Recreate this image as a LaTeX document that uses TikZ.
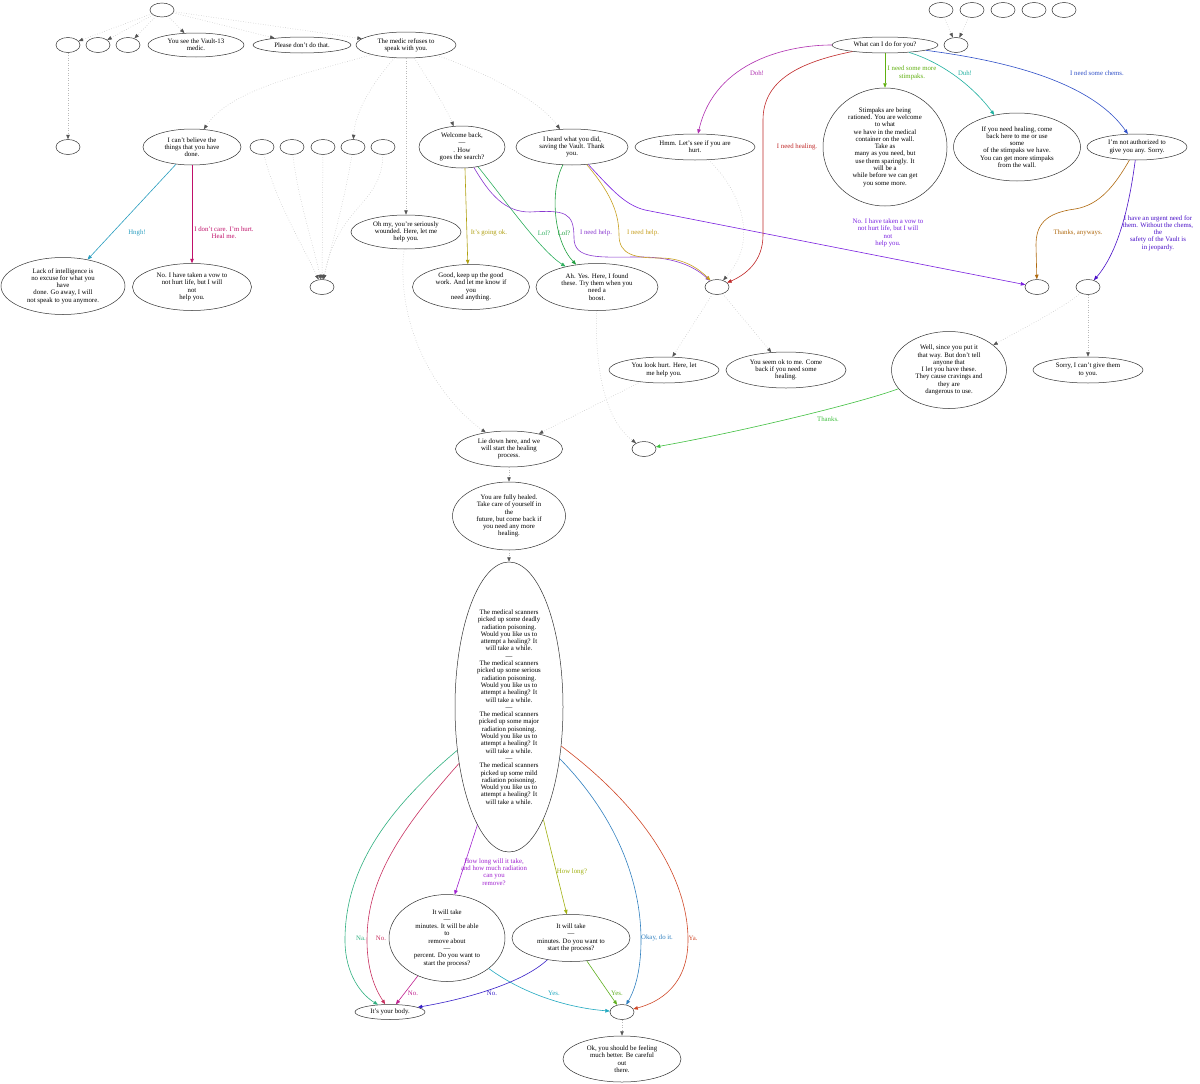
\documentclass[tikz,border=0pt]{standalone}
\usepackage{fontspec}
\setmainfont{Liberation Serif}
\usetikzlibrary{shapes.geometric,arrows.meta}
\definecolor{cHn}{HTML}{2A9EC0}
\definecolor{cDc}{HTML}{C0106A}
\definecolor{cGo}{HTML}{B0A010}
\definecolor{cLolA}{HTML}{30B060}
\definecolor{cLolB}{HTML}{20A040}
\definecolor{cNhA}{HTML}{8A3AD0}
\definecolor{cNhB}{HTML}{C8A020}
\definecolor{cVow}{HTML}{7A20E0}
\definecolor{cDoh}{HTML}{B030B0}
\definecolor{cHeal}{HTML}{C02828}
\definecolor{cStim}{HTML}{60B010}
\definecolor{cDuh}{HTML}{20B0A0}
\definecolor{cChem}{HTML}{3050C8}
\definecolor{cThx}{HTML}{B06A10}
\definecolor{cUrg}{HTML}{4A10C8}
\definecolor{cThanks}{HTML}{40C040}
\definecolor{cNa}{HTML}{30B080}
\definecolor{cNo}{HTML}{C83060}
\definecolor{cHow}{HTML}{A020D0}
\definecolor{cHowl}{HTML}{A0B010}
\definecolor{cOk}{HTML}{3080C0}
\definecolor{cYa}{HTML}{D04828}
\definecolor{cNoB}{HTML}{C02090}
\definecolor{cYesA}{HTML}{20A8C0}
\definecolor{cNoC}{HTML}{3820C8}
\definecolor{cYesB}{HTML}{60B020}
\definecolor{tipgray}{HTML}{555555}
\newcommand{\txtsize}{\fontsize{6.8}{7.3}\selectfont}
\tikzset{
  nd/.style={ellipse,draw=black!80,line width=0.5pt,inner sep=0pt,align=center,font=\txtsize},
  mw/.style={minimum width=#1},
  mh/.style={minimum height=#1},
  em/.style={nd,minimum width=24pt,minimum height=15pt},
  dotl/.style={draw=gray!55,dotted,line width=0.5pt,-{Triangle[length=4.5pt,width=3.5pt,color=tipgray]}},
  ce/.style={draw=#1,line width=0.6pt,-{Triangle[length=4.5pt,width=3.5pt]}},
  lb/.style={font=\txtsize,align=center,text=#1,inner sep=1pt}
}
\begin{document}
\begin{tikzpicture}[x=1pt,y=-1pt]
\useasboundingbox[fill=white] (0,0) rectangle (1200,1084);

% top row
\node[em,minimum height=14pt] (n0) at (162,10) {};
\node[em] (e1) at (68,45) {};
\node[em] (e2) at (98,45) {};
\node[em] (e3) at (128,45) {};
\node[nd,mw=96pt,mh=24pt] (see) at (196,45) {You see the Vault-13\\medic.};
\node[nd,mw=98pt,mh=16pt] (please) at (302,45) {Please don't do that.};
\node[nd,mw=100pt,mh=26pt] (refuses) at (406,45) {The medic refuses to\\speak with you.};
\node[em] (r1) at (941,10) {};
\node[em] (r2) at (972,10) {};
\node[em] (r3) at (1003,10) {};
\node[em] (r4) at (1034,10) {};
\node[em] (r5) at (1064,10) {};
\node[em] (r6) at (956,45) {};
\node[nd,mw=106pt,mh=16pt] (what) at (885,45) {What can I do for you?};

% second row
\node[em] (e4) at (68,147) {};
\node[nd,mw=98pt,mh=36pt] (cant) at (192,147) {I can't believe the\\things that you have\\done.};
\node[em] (m1) at (262,147) {};
\node[em] (m2) at (292,147) {};
\node[em] (m3) at (323,147) {};
\node[em] (m4) at (353,147) {};
\node[em] (m5) at (383,147) {};
\node[nd,mw=86pt,mh=42pt] (welcome) at (462,147) {Welcome back,\\---\\. How\\goes the search?};
\node[nd,mw=112pt,mh=36pt] (heard) at (572,147) {I heard what you did,\\saving the Vault. Thank\\you.};
\node[nd,mw=120pt,mh=26pt] (hmm) at (695,147) {Hmm. Let's see if you are\\hurt.};
\node[nd,mw=124pt,mh=118pt] (stim) at (885,147) {Stimpaks are being\\rationed. You are welcome\\to what\\we have in the medical\\container on the wall.\\Take as\\many as you need, but\\use them sparingly. It\\will be a\\while before we can get\\you some more.};
\node[nd,mw=127pt,mh=68pt] (ifneed) at (1017,147) {If you need healing, come\\back here to me or use\\some\\of the stimpaks we have.\\You can get more stimpaks\\from the wall.};
\node[nd,mw=100pt,mh=26pt] (notauth) at (1137,147) {I'm not authorized to\\give you any. Sorry.};

% third row
\node[nd,mw=110pt,mh=34pt] (ohmy) at (406,232) {Oh my, you're seriously\\wounded. Here, let me\\help you.};
\node[nd,mw=124pt,mh=57pt] (lack) at (63,286) {Lack of intelligence is\\no excuse for what you\\have\\done. Go away, I will\\not speak to you anymore.};
\node[nd,mw=119pt,mh=47pt] (novow) at (192,287) {No. I have taken a vow to\\not hurt life, but I will\\not\\help you.};
\node[em] (sink1) at (322,287) {};
\node[nd,mw=117pt,mh=45pt] (good) at (471,287) {Good, keep up the good\\work. And let me know if\\you\\need anything.};
\node[nd,mw=122pt,mh=47pt] (ahyes) at (597,287) {Ah. Yes. Here, I found\\these. Try them when you\\need a\\boost.};
\node[em] (sinkA) at (717,287) {};
\node[em] (sinkB) at (1037,287) {};
\node[em] (sinkC) at (1088,287) {};

% fourth row
\node[nd,mw=110pt,mh=26pt] (youlook) at (664,370) {You look hurt. Here, let\\me help you.};
\node[nd,mw=120pt,mh=36pt] (youseem) at (786,370) {You seem ok to me. Come\\back if you need some\\healing.};
\node[nd,mw=115pt,mh=77pt] (well) at (949,370) {Well, since you put it\\that way. But don't tell\\anyone that\\I let you have these.\\They cause cravings and\\they are\\dangerous to use.};
\node[nd,mw=110pt,mh=26pt] (sorry) at (1088,370) {Sorry, I can't give them\\to you.};

% lower part
\node[nd,mw=107pt,mh=36pt] (lie) at (509,449) {Lie down here, and we\\will start the healing\\process.};
\node[em] (sinkD) at (644,449) {};
\node[nd,mw=113pt,mh=68pt] (fully) at (509,516) {You are fully healed.\\Take care of yourself in\\the\\future, but come back if\\you need any more\\healing.};
\node[nd,mw=108pt,mh=290pt] (scan) at (509,707) {The medical scanners\\picked up some deadly\\radiation poisoning.\\Would you like us to\\attempt a healing? It\\will take a while.\\---\\The medical scanners\\picked up some serious\\radiation poisoning.\\Would you like us to\\attempt a healing? It\\will take a while.\\---\\The medical scanners\\picked up some major\\radiation poisoning.\\Would you like us to\\attempt a healing? It\\will take a while.\\---\\The medical scanners\\picked up some mild\\radiation poisoning.\\Would you like us to\\attempt a healing? It\\will take a while.};
\node[nd,mw=116pt,mh=87pt] (wt1) at (447,938) {It will take\\---\\minutes. It will be able\\to\\remove about\\---\\percent. Do you want to\\start the process?};
\node[nd,mw=118pt,mh=47pt] (wt2) at (571,938) {It will take\\---\\minutes. Do you want to\\start the process?};
\node[nd,mw=70pt,mh=15pt] (body) at (390,1012) {It's your body.};
\node[em] (sinkE) at (622,1012) {};
\node[nd,mw=118pt,mh=46pt] (ok) at (622,1059) {Ok, you should be feeling\\much better. Be careful\\out\\there.};

% dotted connectors
\draw[dotl] (n0) -- (e1);
\draw[dotl] (n0) -- (e2);
\draw[dotl] (n0) -- (e3);
\draw[dotl] (n0) -- (see);
\draw[dotl] (n0) -- (please);
\draw[dotl] (n0) -- (refuses);
\draw[dotl] (e1) -- (e4);
\draw[dotl] (refuses) .. controls (300,75) and (230,90) .. (cant);
\draw[dotl] (refuses) .. controls (375,80) and (355,110) .. (m4);
\draw[dotl] (refuses) -- (ohmy);
\draw[dotl] (refuses) .. controls (425,75) and (445,105) .. (welcome);
\draw[dotl] (refuses) .. controls (480,70) and (540,100) .. (heard);
\draw[dotl] (m1) .. controls (275,200) and (305,250) .. (sink1);
\draw[dotl] (m2) .. controls (298,200) and (315,250) .. (sink1);
\draw[dotl] (m3) -- (sink1);
\draw[dotl] (m4) .. controls (345,200) and (330,250) .. (sink1);
\draw[dotl] (m5) .. controls (382,205) and (338,205) .. (sink1);
\draw[dotl] (r1) -- (r6);
\draw[dotl] (r2) -- (r6);
\draw[dotl] (hmm) .. controls (740,190) and (760,240) .. (sinkA);
\draw[dotl] (sinkA) -- (youlook);
\draw[dotl] (sinkA) -- (youseem);
\draw[dotl] (youlook) -- (lie);
\draw[dotl] (ohmy) .. controls (395,330) and (440,400) .. (lie);
\draw[dotl] (ahyes) .. controls (595,370) and (605,420) .. (sinkD);
\draw[dotl] (sinkC) .. controls (1060,310) and (1020,330) .. (well);
\draw[dotl] (sinkC) -- (sorry);
\draw[dotl] (lie) -- (fully);
\draw[dotl] (fully) -- (scan);
\draw[dotl] (sinkE) -- (ok);

% coloured connectors
\draw[ce=cHn] (cant) -- (lack);
\draw[ce=cDc] (cant) -- (novow);
\draw[ce=cGo] (welcome.-82) -- (good.98);
\draw[ce=cLolA] (welcome) .. controls (505,200) and (540,250) .. (ahyes);
\draw[ce=cLolB] (heard) .. controls (550,190) and (553,240) .. (ahyes);
\draw[ce=cNhA] (welcome) .. controls (490,195) and (505,212) .. (530,212) .. controls (565,210) and (574,212) .. (574,238) .. controls (574,260) and (600,257) .. (640,257) .. controls (680,257) and (698,270) .. (sinkA);
\draw[ce=cNhB] (heard) .. controls (608,190) and (619,210) .. (619,235) .. controls (619,255) and (635,258) .. (660,258) .. controls (685,258) and (700,270) .. (sinkA);
\draw[ce=cVow] (heard) .. controls (612,190) and (625,205) .. (645,210) -- (sinkB);
\draw[ce=cDoh] (what) .. controls (790,45) and (715,60) .. (hmm);
\draw[ce=cHeal] (what) .. controls (800,62) and (763,80) .. (763,120) -- (763,235) .. controls (763,262) and (745,275) .. (sinkA);
\draw[ce=cStim] (what) -- (stim);
\draw[ce=cDuh] (what) .. controls (950,65) and (980,95) .. (ifneed);
\draw[ce=cChem] (what) .. controls (1000,60) and (1090,80) .. (notauth);
\draw[ce=cThx] (notauth) .. controls (1115,185) and (1100,205) .. (1075,209) .. controls (1045,213) and (1036,225) .. (1036,245) -- (sinkB);
\draw[ce=cUrg] (notauth) .. controls (1130,200) and (1120,250) .. (sinkC);
\draw[ce=cThanks] (well) .. controls (860,403) and (740,432) .. (sinkD);
\draw[ce=cNa] (scan) .. controls (380,815) and (345,875) .. (345,940) .. controls (345,975) and (362,995) .. (body);
\draw[ce=cNo] (scan) .. controls (400,830) and (367,880) .. (367,940) .. controls (367,975) and (378,993) .. (body);
\draw[ce=cHow] (scan.-105) -- (wt1.80);
\draw[ce=cHowl] (scan.-73) -- (wt2.100);
\draw[ce=cOk] (scan) .. controls (615,815) and (641,880) .. (641,940) .. controls (641,975) and (633,993) .. (sinkE);
\draw[ce=cYa] (scan) .. controls (640,805) and (688,875) .. (688,940) .. controls (688,985) and (660,1002) .. (sinkE);
\draw[ce=cNoB] (wt1) -- (body);
\draw[ce=cYesA] (wt1) .. controls (525,995) and (570,1008) .. (sinkE);
\draw[ce=cNoC] (wt2) .. controls (520,985) and (460,1000) .. (body);
\draw[ce=cYesB] (wt2) -- (sinkE);

% labels
\node[lb=cHn] (lHn) at (137,233) {Hngh!};
\node[lb=cDc] (lDc) at (224,233) {I don't care. I'm hurt.\\Heal me.};
\node[lb=cGo] (lGo) at (489,233) {It's going ok.};
\node[lb=cLolA] (lLolA) at (544,233) {Lol?};
\node[lb=cLolB] (lLolB) at (564,233) {Lol?};
\node[lb=cNhA] (lNhA) at (596,233) {I need help.};
\node[lb=cNhB] (lNhB) at (643,233) {I need help.};
\node[lb=cVow] (lVow) at (888,233) {No. I have taken a vow to\\not hurt life, but I will\\not\\help you.};
\node[lb=cDoh] (lDoh) at (757,73) {Doh!};
\node[lb=cHeal] (lHeal) at (797,147) {I need healing.};
\node[lb=cStim] (lStim) at (912,73) {I need some more\\stimpaks.};
\node[lb=cDuh] (lDuh) at (965,73) {Duh!};
\node[lb=cChem] (lChem) at (1097,73) {I need some chems.};
\node[lb=cThx] (lThx) at (1078,233) {Thanks, anyways.};
\node[lb=cUrg] (lUrg) at (1158,233) {I have an urgent need for\\them. Without the chems,\\the\\safety of the Vault is\\in jeopardy.};
\node[lb=cThanks] (lThanks) at (828,419) {Thanks.};
\node[lb=cNa] (lNa) at (361,938) {Na.};
\node[lb=cNo] (lNo) at (381,938) {No.};
\node[lb=cHow] (lHow) at (494,872) {How long will it take,\\and how much radiation\\can you\\remove?};
\node[lb=cHowl] (lHowl) at (572,872) {How long?};
\node[lb=cOk] (lOk) at (657,938) {Okay, do it.};
\node[lb=cYa] (lYa) at (693,938) {Ya.};
\node[lb=cNoB] (lNoB) at (413,993) {No.};
\node[lb=cYesA] (lYesA) at (554,993) {Yes.};
\node[lb=cNoC] (lNoC) at (492,993) {No.};
\node[lb=cYesB] (lYesB) at (617,993) {Yes.};
\end{tikzpicture}
\end{document}
